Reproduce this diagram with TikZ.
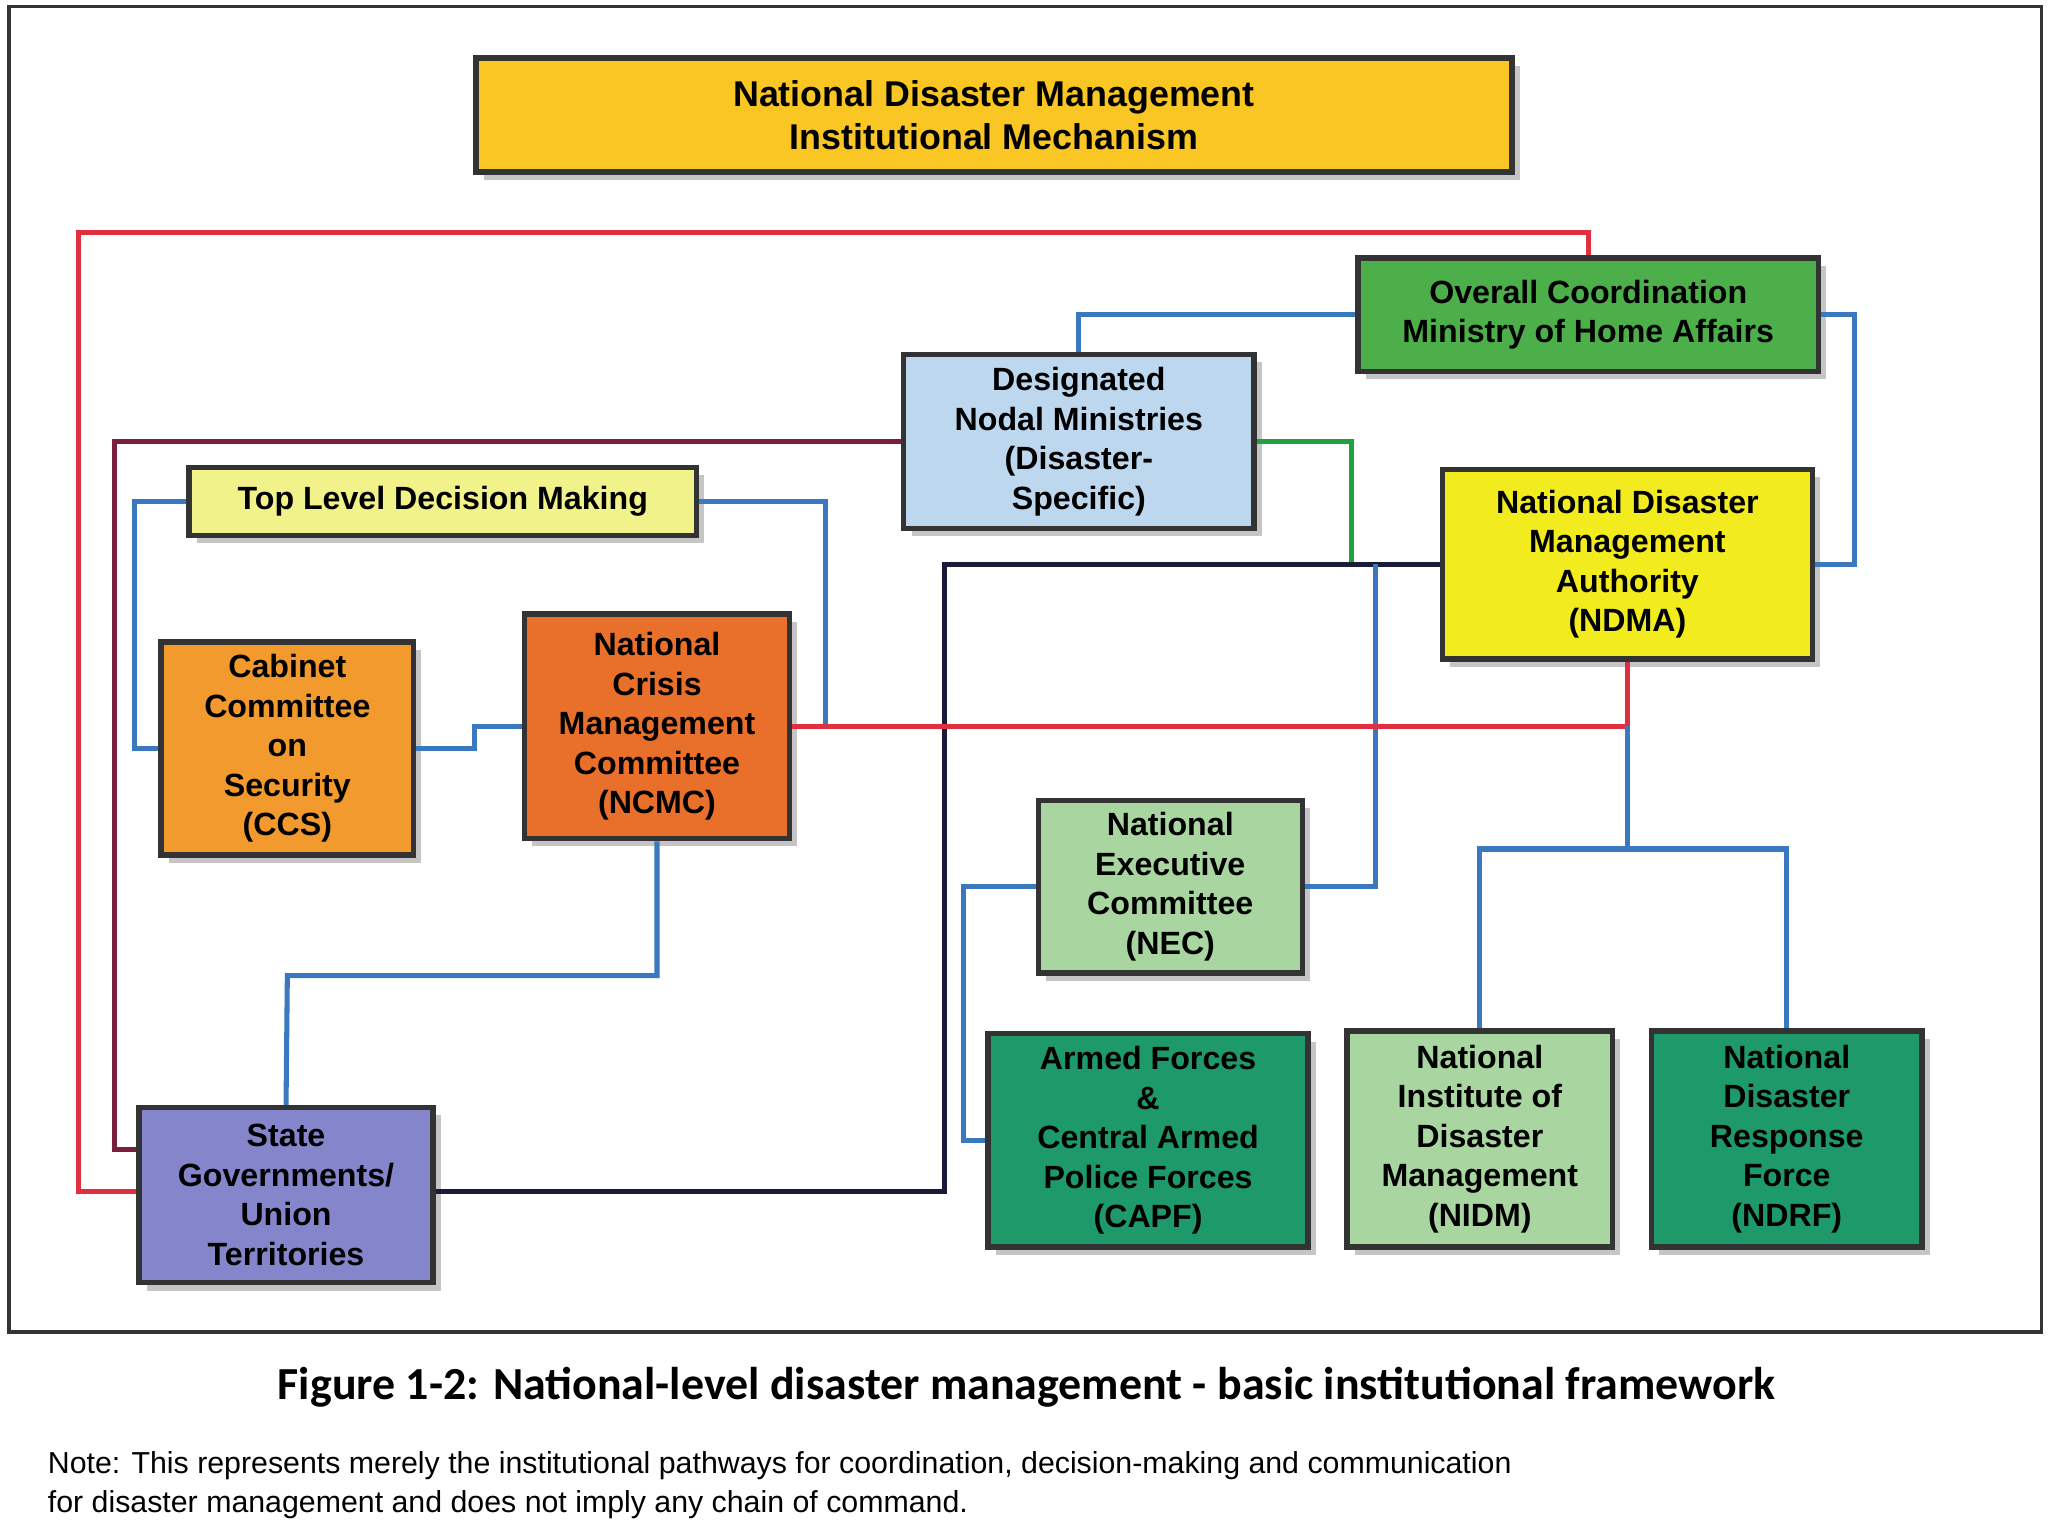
\documentclass[tikz,border=0pt]{standalone}
\usepackage{fontspec}
\setmainfont{Liberation Sans}
\newfontfamily\capfont{Carlito}
\usetikzlibrary{shadows}
\definecolor{titleY}{HTML}{F9C623}
\definecolor{coordG}{HTML}{4DAF4A}
\definecolor{nodalB}{HTML}{BDD7EE}
\definecolor{topY}{HTML}{F2F28A}
\definecolor{ndmaY}{HTML}{F2EC1E}
\definecolor{ccsO}{HTML}{F29A2E}
\definecolor{ncmcO}{HTML}{E8702A}
\definecolor{lightG}{HTML}{A8D5A0}
\definecolor{darkG}{HTML}{1E9A6A}
\definecolor{stateP}{HTML}{8585CC}
\definecolor{lineB}{HTML}{3A78C0}
\definecolor{lineR}{HTML}{E03040}
\definecolor{lineM}{HTML}{7A1F3D}
\definecolor{lineN}{HTML}{1A1A3A}
\definecolor{lineG}{HTML}{20A040}
\tikzset{%
  % boxes
            base/.style = {rectangle, draw=black!80, line width=1.2pt,
                           align=center, inner sep=1pt,
                           font=\bfseries\fontsize{7}{8.6}\selectfont,
                           drop shadow={shadow xshift=0.6mm, shadow yshift=-0.6mm, fill=black!45}},
           title/.style = {base, fill=titleY, font=\bfseries\fontsize{7.8}{9.4}\selectfont},
           coord/.style = {base, fill=coordG},
           nodal/.style = {base, fill=nodalB},
             top/.style = {base, fill=topY},
            ndma/.style = {base, fill=ndmaY},
             ccs/.style = {base, fill=ccsO},
            ncmc/.style = {base, fill=ncmcO},
          lgreen/.style = {base, fill=lightG},
          dgreen/.style = {base, fill=darkG},
           state/.style = {base, fill=stateP},
  % connectors
              bl/.style = {draw=lineB, line width=1.1pt},
              rd/.style = {draw=lineR, line width=1.1pt},
              mr/.style = {draw=lineM, line width=1.1pt},
              nv/.style = {draw=lineN, line width=1.1pt},
              gr/.style = {draw=lineG, line width=1.1pt},
}
\begin{document}
\begin{tikzpicture}[x=0.01cm, y=-0.01cm]
\useasboundingbox (0,0) rectangle (1568,1176);
\draw[black!80, line width=0.8pt] (7,5) rectangle (1563,1020);

\node (Title) [title, minimum width=7.93cm, minimum height=0.87cm] at (761,88)
  {National Disaster Management\\Institutional Mechanism};
\node (MHA) [coord, minimum width=3.52cm, minimum height=0.87cm] at (1216,241)
  {Overall Coordination\\Ministry of Home Affairs};
\node (DNM) [nodal, minimum width=2.68cm, minimum height=1.33cm] at (826,338)
  {Designated\\Nodal Ministries\\(Disaster-\\Specific)};
\node (TLD) [top, minimum width=3.88cm, minimum height=0.52cm] at (339,384)
  {Top Level Decision Making};
\node (NDMA) [ndma, minimum width=2.83cm, minimum height=1.45cm] at (1246,432)
  {National Disaster\\Management\\Authority\\(NDMA)};
\node (CCS) [ccs, minimum width=1.93cm, minimum height=1.63cm] at (220,573)
  {Cabinet\\Committee\\on\\Security\\(CCS)};
\node (NCMC) [ncmc, minimum width=2.03cm, minimum height=1.72cm] at (503,556)
  {National\\Crisis\\Management\\Committee\\(NCMC)};
\node (NEC) [lgreen, minimum width=2.02cm, minimum height=1.32cm] at (896,679)
  {National\\Executive\\Committee\\(NEC)};
\node (CAPF) [dgreen, minimum width=2.45cm, minimum height=1.63cm] at (879,873)
  {Armed Forces\\\&\\Central Armed\\Police Forces\\(CAPF)};
\node (NIDM) [lgreen, minimum width=2.03cm, minimum height=1.65cm] at (1133,872)
  {National\\Institute of\\Disaster\\Management\\(NIDM)};
\node (NDRF) [dgreen, minimum width=2.07cm, minimum height=1.65cm] at (1368,872)
  {National\\Disaster\\Response\\Force\\(NDRF)};
\node (State) [state, minimum width=2.25cm, minimum height=1.34cm] at (219,915)
  {State\\Governments/\\Union\\Territories};

\begin{scope}[on background layer/.try]
\end{scope}
\draw[rd] (MHA.north) |- (60,178) |- (State.west |- 0,912);
\draw[mr] (DNM.west) -| (88,880) -- (State.west |- 0,880);
\draw[bl] (MHA.west) -| (DNM.north);
\draw[bl] (MHA.east) -- (1420,241) |- (NDMA.east);
\draw[gr] (DNM.east |- 0,338) -| (1035,432);
\draw[nv] (NDMA.west) -| (723,912) -- (State.east |- 0,912);
\draw[bl] (1053,432) |- (NEC.east);
\draw[bl] (TLD.west) -| (103,573) -- (CCS.west);
\draw[bl] (TLD.east) -| (632,556) -- (NCMC.east);
\draw[bl] (CCS.east) -- (363,573) |- (NCMC.west);
\draw[rd] (NCMC.east) -| (NDMA.south);
\draw[bl] (1246,556) -- (1246,650) -| (NIDM.north);
\draw[bl] (1246,650) -| (NDRF.north);
\draw[bl] (NEC.west) -| (738,873) -- (CAPF.west);
\draw[bl] (NCMC.south) |- (220,747) -- (State.north);

\node (Caption) at (786,1062) {\capfont\bfseries\fontsize{10}{12}\selectfont
  Figure 1-2: National-level disaster management - basic institutional framework};
\node (Note) [anchor=north west, align=left, inner sep=0pt, font=\fontsize{6.6}{8.4}\selectfont]
  at (36,1111) {Note: This represents merely the institutional pathways for coordination, decision-making and communication\\
  for disaster management and does not imply any chain of command.};
\end{tikzpicture}
\end{document}
